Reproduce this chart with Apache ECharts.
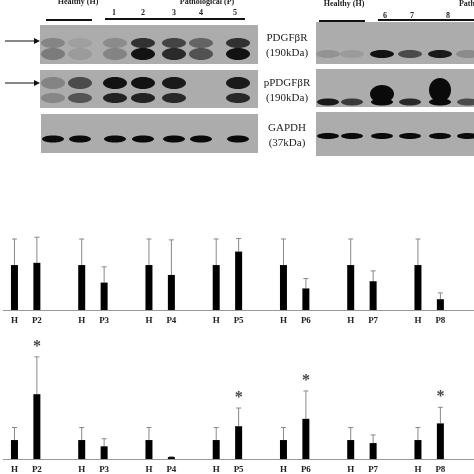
<!DOCTYPE html>
<html><head><meta charset="utf-8">
<script src="https://cdn.jsdelivr.net/npm/echarts@6/dist/echarts.min.js"></script>
<style>html,body{margin:0;padding:0;background:#fff}#main{width:474px;height:474px}</style>
</head><body><div id="main"></div>
<script>
// categories: H, P, gap  x 7 groups
var patients = ['P2', 'P3', 'P4', 'P5', 'P6', 'P7', 'P8'];
// PDGFbR (top chart), relative to healthy
var totalH = [1, 1, 1, 1, 1, 1, 1];
var totalHErr = [1.58, 1.58, 1.58, 1.58, 1.58, 1.58, 1.58];
var totalP = [1.05, 0.61, 0.78, 1.30, 0.48, 0.64, 0.24];
var totalPErr = [1.62, 0.96, 1.56, 1.59, 0.70, 0.87, 0.38];
// pPDGFbR (bottom chart)
var phosH = [1, 1, 1, 1, 1, 1, 1];
var phosHErr = [1.66, 1.66, 1.66, 1.66, 1.66, 1.66, 1.66];
var phosP = [3.42, 0.67, 0.1, 1.73, 2.12, 0.84, 1.88];
var phosPErr = [5.39, 1.07, 0.12, 2.69, 3.59, 1.27, 2.73];
var phosStar = [1, 0, 0, 1, 1, 0, 1];

var cats = [], i;
for (i = 0; i < patients.length; i++) { cats.push('H' + i, patients[i], 'g' + i); }

function flat(h, p) {
    var out = [];
    for (var k = 0; k < h.length; k++) out.push(h[k], p[k], '-');
    return out;
}
function errData(h, he, p, pe) {
    var out = [];
    for (var k = 0; k < h.length; k++) {
        out.push([k * 3, h[k], he[k], 0]);
        out.push([k * 3 + 1, p[k], pe[k], 0]);
    }
    return out;
}

var myChart = echarts.init(document.getElementById('main'));

var serif = 'Liberation Serif';
function xAxisFor(idx) {
    return {
        type: 'category', gridIndex: idx, data: cats,
        axisLine: { lineStyle: { color: '#999', width: 1 } },
        axisTick: { show: false },
        axisLabel: {
            interval: 0, fontFamily: serif, fontWeight: 'bold', fontSize: 9, color: '#222', margin: 6,
            formatter: function (v) { return v.charAt(0) == 'g' ? '' : (v.charAt(0) == 'H' ? 'H' : v); }
        }
    };
}

var errorRender = function (params, api) {
    var x = api.value(0), v = api.value(1), top = api.value(2);
    var p0 = api.coord([x, v]);
    var p1 = api.coord([x, top]);
    var st = { stroke: '#888', lineWidth: 1 };
    return {
        type: 'group', children: [
            { type: 'line', shape: { x1: p0[0], y1: p0[1], x2: p1[0], y2: p1[1] }, style: st },
            { type: 'line', shape: { x1: p1[0] - 2.5, y1: p1[1], x2: p1[0] + 2.5, y2: p1[1] }, style: st }
        ]
    };
};

// western blot panels (decoration)
function band(cx, cy, rx, ry, op) {
    return { type: 'ellipse', shape: { cx: cx, cy: cy, rx: rx, ry: ry }, style: { fill: 'rgba(10,10,10,' + op + ')' } };
}
var blot = [];
var panels = [[40, 25, 218, 39], [40, 70, 218, 38], [41, 114, 217, 39], [316, 22, 160, 42], [316, 69, 160, 38], [316, 112, 160, 44]];
panels.forEach(function (p) {
    blot.push({ type: 'rect', shape: { x: p[0], y: p[1], width: p[2], height: p[3] }, style: { fill: '#acacac' } });
});
var lanes = [53, 80, 115, 143, 174, 201, 238];
var lanesR = [328, 352, 382, 410, 440, 468];
// PDGFbR bands
[0.3, 0.1, 0.25, 0.95, 0.8, 0.55, 0.95].forEach(function (o, k) { blot.push(band(lanes[k], 43, 12, 5, o * 0.8)); blot.push(band(lanes[k], 54, 12, 6, o)); });
[0.15, 0.1, 0.95, 0.6, 0.9, 0.2].forEach(function (o, k) { blot.push(band(lanesR[k], 54, 12, 4, o)); });
// pPDGFbR bands
[0.25, 0.6, 0.95, 0.95, 0.9, 0, 0.9].forEach(function (o, k) { blot.push(band(lanes[k], 83, 12, 6, o)); blot.push(band(lanes[k], 98, 12, 5, o * 0.9)); });
[0.9, 0.7, 1, 0.8, 1, 0.6].forEach(function (o, k) { blot.push(band(lanesR[k], 102, 11, 3.5, o)); });
blot.push(band(382, 94, 12, 9, 1)); blot.push(band(440, 90, 11, 12, 1));
// GAPDH
lanes.forEach(function (x) { blot.push(band(x, 139, 11, 3.5, 1)); });
lanesR.forEach(function (x) { blot.push(band(x, 136, 11, 3, 1)); });
// labels and lines
var tstyle = function (t, x, y, sz, bold) {
    return { type: 'text', x: x, y: y, style: { text: t, fontFamily: serif, fontSize: sz, fontWeight: bold ? 'bold' : 'normal', fill: '#222', textAlign: 'center' } };
};
blot.push(tstyle('Healthy (H)', 78, -2, 8, true));
blot.push(tstyle('Pathological (P)', 207, -2, 8, true));
blot.push(tstyle('Healthy (H)', 344, 0, 8, true));
blot.push(tstyle('Pathol', 470, 0, 8, true));
['1', '2', '3', '4', '5'].forEach(function (t, k) { blot.push(tstyle(t, [114, 143, 174, 201, 235][k], 9, 8, true)); });
['6', '7', '8'].forEach(function (t, k) { blot.push(tstyle(t, [385, 412, 448][k], 12, 8, true)); });
[[46, 20, 92], [105, 19, 245], [319, 21, 365], [378, 20, 474]].forEach(function (l) {
    blot.push({ type: 'line', shape: { x1: l[0], y1: l[1], x2: l[2], y2: l[1] }, style: { stroke: '#111', lineWidth: 2 } });
});
blot.push(tstyle('PDGFβR', 287, 33, 11)); blot.push(tstyle('(190kDa)', 287, 48, 11));
blot.push(tstyle('pPDGFβR', 287, 78, 11)); blot.push(tstyle('(190kDa)', 287, 93, 11));
blot.push(tstyle('GAPDH', 287, 123, 11)); blot.push(tstyle('(37kDa)', 287, 138, 11));
[41, 83].forEach(function (y) {
    blot.push({ type: 'line', shape: { x1: 5, y1: y, x2: 34, y2: y }, style: { stroke: '#111', lineWidth: 1 } });
    blot.push({ type: 'polygon', shape: { points: [[34, y - 3], [40, y], [34, y + 3]] }, style: { fill: '#111' } });
});

var starLabels = [];
for (i = 0; i < patients.length; i++) {
    starLabels.push(phosStar[i] ? { value: [i * 3 + 1, phosPErr[i]] } : { value: [i * 3 + 1, NaN] });
}

option = {
    backgroundColor: '#fff',
    animation: false,
    graphic: blot,
    grid: [
        { left: 3.25, right: -24, top: 230, height: 80 },
        { left: 3.25, right: -24, top: 340, height: 121.3 }
    ],
    xAxis: [xAxisFor(0), xAxisFor(1)],
    yAxis: [
        { type: 'value', gridIndex: 0, min: 0, max: 1.78, show: false },
        { type: 'value', gridIndex: 1, min: 0, max: 6.28, show: false }
    ],
    series: [
        { type: 'custom', xAxisIndex: 0, yAxisIndex: 0, renderItem: errorRender, data: errData(totalH, totalHErr, totalP, totalPErr), z: 1 },
        { type: 'bar', xAxisIndex: 0, yAxisIndex: 0, data: flat(totalH, totalP), barWidth: 7, itemStyle: { color: '#000' }, z: 2 },
        { type: 'custom', xAxisIndex: 1, yAxisIndex: 1, renderItem: errorRender, data: errData(phosH, phosHErr, phosP, phosPErr), z: 1 },
        { type: 'bar', xAxisIndex: 1, yAxisIndex: 1, data: flat(phosH, phosP), barWidth: 7, itemStyle: { color: '#000' }, z: 2 },
        {
            type: 'scatter', xAxisIndex: 1, yAxisIndex: 1, data: starLabels, symbolSize: 0,
            label: { show: true, formatter: '*', position: 'top', distance: 2, fontSize: 16, fontWeight: 'bold', color: '#111', fontFamily: serif }
        }
    ]
};
myChart.setOption(option);
</script>
</body></html>
